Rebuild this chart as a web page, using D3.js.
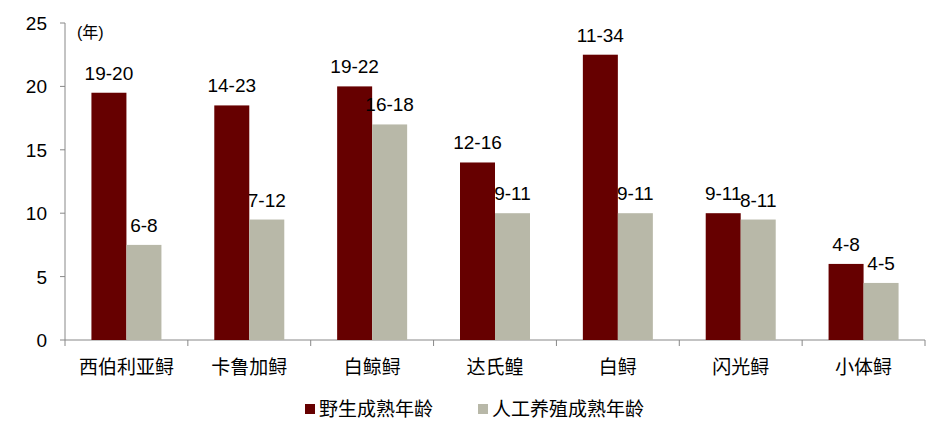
<!DOCTYPE html><html><head><meta charset="utf-8"><script src="https://cdn.jsdelivr.net/npm/d3@7"></script>
<style>body{margin:0;background:#fff}text{font-family:Arial,"Liberation Sans","Noto Sans CJK SC",sans-serif}</style></head><body>
<svg id="c" width="943" height="442"></svg>
<script>
const categories=["西伯利亚鲟","卡鲁加鲟","白鲸鲟","达氏鳇","白鲟","闪光鲟","小体鲟"];
const wildValues=[19.5,18.5,20,14,22.5,10,6];
const farmValues=[7.5,9.5,17,10,10,9.5,4.5];
const wildLabels=["19-20","14-23","19-22","12-16","11-34","9-11","4-8"];
const farmLabels=["6-8","7-12","16-18","9-11","9-11","8-11","4-5"];
const seriesNames=["野生成熟年龄","人工养殖成熟年龄"];
const yTicks=[0,5,10,15,20,25];
const colors=["#660000","#b8b8a8"];
const svg=d3.select("#c");
const x=d3.scaleBand().domain(categories).range([65,925]);
const y=d3.scaleLinear().domain([0,25]).range([340,23]);
const bw=35;
const g=svg.append("g");
// y axis
g.append("line").attr("x1",65).attr("x2",65).attr("y1",23).attr("y2",340).attr("stroke","#888");
yTicks.forEach(t=>{
 g.append("line").attr("x1",60).attr("x2",65).attr("y1",y(t)).attr("y2",y(t)).attr("stroke","#888");
 g.append("text").attr("x",47).attr("y",y(t)+7).attr("text-anchor","end").attr("font-size",19).text(t);
});
g.append("line").attr("x1",65).attr("x2",925).attr("y1",340).attr("y2",340).attr("stroke","#888");
categories.forEach((c,i)=>{
 const xe=x(c)+x.bandwidth();
 g.append("line").attr("x1",xe).attr("x2",xe).attr("y1",340).attr("y2",346).attr("stroke","#888");
 g.append("text").attr("x",x(c)+x.bandwidth()/2).attr("y",374).attr("text-anchor","middle").attr("font-size",19).text(c);
});
g.append("line").attr("x1",65).attr("x2",65).attr("y1",340).attr("y2",346).attr("stroke","#888");
[wildValues,farmValues].forEach((vals,s)=>{
 const labs=s?farmLabels:wildLabels;
 categories.forEach((c,i)=>{
  const cx=x(c)+x.bandwidth()/2;
  const bx=s?cx:cx-bw;
  g.append("rect").attr("x",bx).attr("y",y(vals[i])).attr("width",bw).attr("height",340-y(vals[i])).attr("fill",colors[s]);
  g.append("text").attr("x",bx+bw/2).attr("y",y(vals[i])-13).attr("text-anchor","middle").attr("font-size",19).text(labs[i]);
 });
});
g.append("text").attr("x",77).attr("y",38).attr("font-size",16).text("(年)");
// legend
const lx=[305,478];
seriesNames.forEach((n,i)=>{
 g.append("rect").attr("x",lx[i]).attr("y",404).attr("width",10).attr("height",10).attr("fill",colors[i]);
 g.append("text").attr("x",lx[i]+14).attr("y",416).attr("font-size",19).text(n);
});
</script></body></html>
